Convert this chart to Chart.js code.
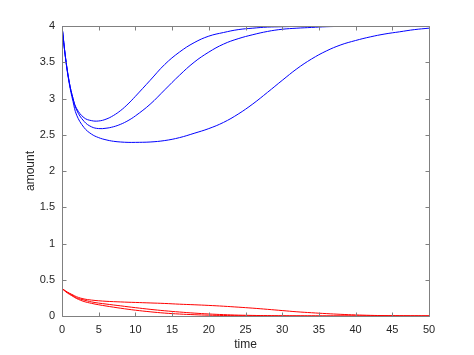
<!DOCTYPE html>
<html>
<head>
<meta charset="utf-8">
<script src="https://cdn.jsdelivr.net/npm/chart.js@4/dist/chart.umd.min.js"></script>
<style>
  html, body { margin: 0; padding: 0; background: #ffffff; }
  #wrap { width: 474px; height: 355px; }
</style>
</head>
<body>
<div id="wrap"><canvas id="c" width="474" height="355"></canvas></div>
<script>
// ---- data ----
const time = [0, 0.5, 1, 1.5, 2, 3, 4, 5, 6, 7, 8, 9, 10, 12, 14, 16, 18, 20, 22, 24, 26, 28, 30, 32, 34, 36, 38, 40, 42, 44, 46, 48, 50];

const blue1 = [4, 3.55, 3.22, 3.0, 2.86, 2.735, 2.695, 2.69, 2.715, 2.765, 2.835, 2.925, 3.03, 3.25, 3.47, 3.64, 3.77, 3.86, 3.91, 3.95, 3.97, 3.985, 3.99, 3.995, 4, 4, 4, 4, 4, 4, 4, 4, 4];
const blue2 = [4, 3.55, 3.22, 3.0, 2.84, 2.685, 2.61, 2.585, 2.59, 2.61, 2.645, 2.695, 2.76, 2.92, 3.12, 3.32, 3.50, 3.64, 3.75, 3.825, 3.88, 3.925, 3.955, 3.97, 3.98, 3.99, 3.995, 4, 4, 4, 4, 4, 4];
const blue3 = [4, 3.54, 3.20, 2.96, 2.77, 2.60, 2.51, 2.46, 2.43, 2.41, 2.40, 2.395, 2.395, 2.40, 2.42, 2.46, 2.52, 2.585, 2.67, 2.785, 2.925, 3.085, 3.25, 3.41, 3.545, 3.655, 3.74, 3.80, 3.85, 3.89, 3.92, 3.95, 3.97];

const red1 = [0.38, 0.345, 0.315, 0.29, 0.265, 0.235, 0.22, 0.21, 0.203, 0.198, 0.194, 0.19, 0.187, 0.18, 0.173, 0.163, 0.155, 0.146, 0.135, 0.122, 0.108, 0.092, 0.075, 0.058, 0.045, 0.033, 0.023, 0.015, 0.009, 0.005, 0.003, 0.001, 0];
const red2 = [0.38, 0.34, 0.31, 0.28, 0.25, 0.22, 0.195, 0.178, 0.165, 0.152, 0.14, 0.127, 0.115, 0.092, 0.072, 0.055, 0.04, 0.028, 0.019, 0.012, 0.008, 0.005, 0.003, 0.002, 0.001, 0, 0, 0, 0, 0, 0, 0, 0];
const red3 = [0.38, 0.335, 0.30, 0.27, 0.24, 0.20, 0.175, 0.155, 0.138, 0.122, 0.107, 0.093, 0.08, 0.058, 0.04, 0.027, 0.018, 0.011, 0.007, 0.004, 0.002, 0.001, 0, 0, 0, 0, 0, 0, 0, 0, 0, 0, 0];

const xTickValues = [0, 5, 10, 15, 20, 25, 30, 35, 40, 45, 50];
const xTickLabels = ['0', '5', '10', '15', '20', '25', '30', '35', '40', '45', '50'];
const yTickValues = [0, 0.5, 1, 1.5, 2, 2.5, 3, 3.5, 4];
const yTickLabels = ['0', '0.5', '1', '1.5', '2', '2.5', '3', '3.5', '4'];

const xTitle = 'time';
const yTitle = 'amount';

// ---- chart ----
const toPts = arr => time.map((t, i) => ({ x: t, y: arr[i] }));
const mk = (arr, color) => ({
  data: toPts(arr),
  borderColor: color,
  borderWidth: 1,
  pointRadius: 0,
  fill: false,
  tension: 0.4
});

const axisColor = '#808080';
const textColor = '#262626';
const fontFamily = '"Liberation Sans", Arial, Helvetica, sans-serif';

const boxPlugin = {
  id: 'matlabBox',
  afterDatasetsDraw(chart) {
    const { ctx, chartArea: a, scales } = chart;
    ctx.save();
    ctx.strokeStyle = axisColor;
    ctx.lineWidth = 1;
    ctx.beginPath();
    const L = Math.round(a.left) + 0.5, R = Math.round(a.right) + 0.5;
    const T = Math.round(a.top) + 0.5, B = Math.round(a.bottom) + 0.5;
    ctx.rect(L, T, R - L, B - T);
    const tl = 4;
    scales.x.ticks.forEach(tk => {
      const px = Math.round(scales.x.getPixelForValue(tk.value)) + 0.5;
      ctx.moveTo(px, B); ctx.lineTo(px, B - tl);
      ctx.moveTo(px, T); ctx.lineTo(px, T + tl);
    });
    scales.y.ticks.forEach(tk => {
      const py = Math.round(scales.y.getPixelForValue(tk.value)) + 0.5;
      ctx.moveTo(L, py); ctx.lineTo(L + tl, py);
      ctx.moveTo(R, py); ctx.lineTo(R - tl, py);
    });
    ctx.stroke();
    ctx.restore();
  }
};

new Chart(document.getElementById('c'), {
  type: 'line',
  data: {
    datasets: [
      mk(blue1, '#0000ff'),
      mk(blue2, '#0000ff'),
      mk(blue3, '#0000ff'),
      mk(red1, '#ff0000'),
      mk(red2, '#ff0000'),
      mk(red3, '#ff0000')
    ]
  },
  options: {
    responsive: false,
    animation: false,
    layout: { padding: { top: 26, right: 45, left: 0, bottom: 0 } },
    plugins: { legend: { display: false }, tooltip: { enabled: false } },
    scales: {
      x: {
        type: 'linear',
        min: 0, max: 50,
        afterBuildTicks: s => { s.ticks = xTickValues.map(v => ({ value: v })); },
        afterFit: s => { s.height = 39; },
        grid: { display: true, drawOnChartArea: false, drawTicks: false, color: 'rgba(0,0,0,0)' },
        border: { display: false },
        ticks: {
          padding: 7,
          color: textColor,
          font: { family: fontFamily, size: 11 },
          maxRotation: 0,
          autoSkip: false,
          callback: (v, i) => xTickLabels[i]
        },
        title: {
          display: true, text: xTitle, color: textColor,
          font: { family: fontFamily, size: 12 },
          padding: { top: 0, bottom: 3 }
        }
      },
      y: {
        type: 'linear',
        min: 0, max: 4,
        afterBuildTicks: s => { s.ticks = yTickValues.map(v => ({ value: v })); },
        afterFit: s => { s.width = 62; },
        grid: { display: true, drawOnChartArea: false, drawTicks: false, color: 'rgba(0,0,0,0)' },
        border: { display: false },
        ticks: {
          padding: 7,
          color: textColor,
          font: { family: fontFamily, size: 11 },
          autoSkip: false,
          callback: (v, i) => yTickLabels[i]
        },
        title: {
          display: true, text: yTitle, color: textColor,
          font: { family: fontFamily, size: 12 },
          padding: { top: 23, bottom: 0 }
        }
      }
    }
  },
  plugins: [boxPlugin]
});
</script>
</body>
</html>
